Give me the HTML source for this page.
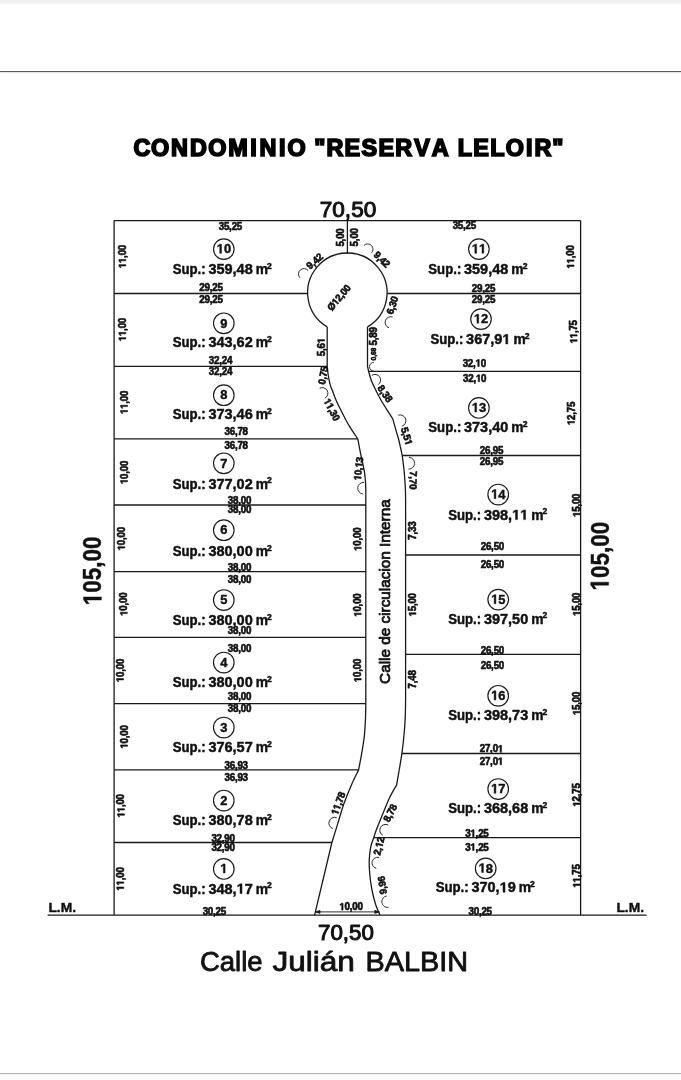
<!DOCTYPE html>
<html><head><meta charset="utf-8"><title>Condominio Reserva Leloir</title>
<style>
html,body{margin:0;padding:0;background:#fff;}
body{width:681px;height:1080px;overflow:hidden;position:relative;font-family:"Liberation Sans",sans-serif;}
.topband{position:absolute;left:0;top:0;width:681px;height:5px;background:linear-gradient(#efefef 0,#f1f1f1 55%,#fff 100%);}
.rule1{position:absolute;left:0;top:70.6px;width:681px;height:1.2px;background:#5a5a5a;box-shadow:0 1px 1px rgba(0,0,0,0.12);}
.rule2{position:absolute;left:0;top:1072.8px;width:681px;height:1.1px;background:#b4b4b4;box-shadow:0 1px 1px rgba(0,0,0,0.06);}
svg{position:absolute;left:0;top:0;}
</style></head><body>
<div class="topband"></div><div class="rule1"></div><div class="rule2"></div>
<svg width="681" height="1080" viewBox="0 0 681 1080" style="filter:blur(0.45px)">
<g fill="none" stroke="#1a1a1a" stroke-width="1.30">
<path d="M114.1 220.6 H580.6"/>
<path d="M114.1 220.6 V915.1"/>
<path d="M580.6 220.6 V915.1"/>
<path d="M47.6 915.1 H646.6"/>
<path d="M114.1 293.5 H307.7"/>
<path d="M114.1 366.4 H327.2"/>
<path d="M114.1 438.9 H357.8"/>
<path d="M114.1 505.0 H365.8"/>
<path d="M114.1 571.6 H365.8"/>
<path d="M114.1 637.4 H365.8"/>
<path d="M114.1 703.6 H365.8"/>
<path d="M114.1 769.9 H358.6"/>
<path d="M114.1 842.5 H331.9"/>
<path d="M387.1 293.5 H580.6"/>
<path d="M368.6 371.3 H580.6"/>
<path d="M402.2 455.5 H580.6"/>
<path d="M405.6 555.0 H580.6"/>
<path d="M405.6 654.3 H580.6"/>
<path d="M401.9 753.5 H580.6"/>
<path d="M373.8 837.6 H580.6"/>
<path d="M347.4 220.6 V253.8"/>
<path d="M327.2 326.9 A39.7 39.7 0 1 1 367.5 326.9"/>
<path d="M327.20 326.90 L327.20 366.40 C327.37 367.83 327.68 371.87 328.20 375.00 C328.72 378.13 329.62 382.65 330.30 385.20 C330.98 387.75 331.28 387.65 332.30 390.30 C333.32 392.95 334.25 396.37 336.40 401.10 C338.55 405.83 342.85 414.23 345.20 418.70 C347.55 423.17 348.83 425.18 350.50 427.90 C352.17 430.62 353.98 433.17 355.20 435.00 C356.42 436.83 357.37 438.25 357.80 438.90 C358.22 441.12 359.53 448.35 360.30 452.20 C361.07 456.05 361.73 458.87 362.40 462.00 C363.07 465.13 363.78 467.67 364.30 471.00 C364.82 474.33 365.25 478.83 365.50 482.00 C365.75 485.17 365.75 486.20 365.80 490.00 C365.85 493.80 365.80 502.33 365.80 504.80 L365.80 703.60 C365.75 706.00 365.73 712.73 365.50 718.00 C365.27 723.27 365.02 729.38 364.40 735.20 C363.78 741.02 362.77 747.12 361.80 752.90 C360.83 758.68 359.13 767.07 358.60 769.90 C357.35 772.53 353.57 780.02 351.10 785.70 C348.63 791.38 346.00 797.77 343.80 804.00 C341.60 810.23 339.88 816.68 337.90 823.10 C335.92 829.52 332.90 839.27 331.90 842.50 L314.60 915.10"/>
<path d="M367.50 326.90 L367.50 366.20 L368.60 371.30 C368.92 372.42 369.83 375.97 370.50 378.00 C371.17 380.03 370.93 379.95 372.60 383.50 C374.27 387.05 377.72 394.32 380.50 399.30 C383.28 404.28 387.25 410.13 389.30 413.40 C391.35 416.67 392.22 417.98 392.80 418.90 C393.45 421.23 395.70 429.38 396.70 432.90 C397.70 436.42 397.88 436.25 398.80 440.00 C399.72 443.75 401.63 452.83 402.20 455.40 C402.50 457.83 403.52 465.23 404.00 470.00 C404.48 474.77 404.83 479.00 405.10 484.00 C405.37 489.00 405.52 488.17 405.60 500.00 C405.68 511.83 405.60 545.83 405.60 555.00 L405.60 700.00 C405.53 703.00 405.47 712.13 405.20 718.00 C404.93 723.87 404.55 729.32 404.00 735.20 C403.45 741.08 402.70 747.50 401.90 753.30 C401.10 759.10 400.08 764.72 399.20 770.00 C398.32 775.28 397.03 782.50 396.60 785.00 C395.38 787.20 391.73 793.07 389.30 798.20 C386.87 803.33 384.20 810.42 382.00 815.80 C379.80 821.18 377.47 826.87 376.10 830.50 C374.73 834.13 374.68 834.90 373.80 837.60 C372.92 840.30 371.55 843.10 370.80 846.70 C370.05 850.30 369.55 855.73 369.30 859.20 C369.05 862.67 369.12 864.03 369.30 867.50 C369.48 870.97 369.87 875.83 370.40 880.00 C370.93 884.17 371.60 888.33 372.50 892.50 C373.40 896.67 374.55 901.23 375.80 905.00 C377.05 908.77 379.30 913.42 380.00 915.10"/>
</g>
<g stroke="#1a1a1a" stroke-width="0.9" fill="#1a1a1a"><path d="M315.6 911.9 H379.2" fill="none"/><path d="M315.4 911.9 l4.6 -1.4 v2.8 z"/><path d="M379.4 911.9 l-4.6 -1.4 v2.8 z"/></g>
<g font-family='"Liberation Sans", sans-serif' fill="#111" stroke="#111" stroke-width="0.45" stroke-linejoin="round">
<text y="156.3" font-size="23.4" font-weight="bold" stroke="#000" stroke-width="1.7" stroke-linejoin="miter" fill="#000" x="133.40 150.94 171.09 189.93 208.13 228.28 250.36 259.47 278.96 287.41 306.90 314.35 326.40 344.60 361.49 378.39 395.29 414.14 431.70 449.90 457.70 473.30 490.20 505.80 525.95 534.41 552.26">CONDOMINIO &quot;RESERVA LELOIR&quot;</text>
<text x="348.00" y="217.20" font-size="22.60" font-weight="normal" text-anchor="middle" stroke-width="1.0">70,50</text>
<text x="346.00" y="940.20" font-size="22.40" font-weight="normal" text-anchor="middle" stroke-width="1.0">70,50</text>
<text x="200.0" y="971.4" font-size="26.8" textLength="62.6" lengthAdjust="spacingAndGlyphs" stroke="#111" stroke-width="0.8">Calle</text>
<text x="272.4" y="971.4" font-size="26.8" textLength="82.4" lengthAdjust="spacingAndGlyphs" stroke="#111" stroke-width="0.8">Julián</text>
<text x="365.6" y="971.4" font-size="26.8" textLength="102.6" lengthAdjust="spacingAndGlyphs" stroke="#111" stroke-width="0.8">BALBIN</text>
<g transform="translate(48.40 912.20) scale(1.0073 1)"><text y="0.00" font-size="13.70" font-weight="bold" x="0.00 8.37 12.18 23.59">L.M.</text></g>
<g transform="translate(616.40 912.20) scale(1.0073 1)"><text y="0.00" font-size="13.70" font-weight="bold" x="0.00 8.37 12.18 23.59">L.M.</text></g>
<g transform="translate(92.10 570.90) rotate(-90.0) scale(0.865 1)" stroke-width="0.45"><text y="9.31" font-size="26.00" font-weight="bold" x="-25.30 -10.84 3.61 10.84 25.30">05,00</text><path transform="translate(-39.75 9.31) scale(0.01270 -0.01270)" stroke-width="35.4" d="M478 0V1170L140 959V1180L493 1409H759V0Z"/></g>
<g transform="translate(599.30 556.10) rotate(-90.0) scale(0.865 1)" stroke-width="0.45"><text y="9.31" font-size="26.00" font-weight="bold" x="-25.30 -10.84 3.61 10.84 25.30">05,00</text><path transform="translate(-39.75 9.31) scale(0.01270 -0.01270)" stroke-width="35.4" d="M478 0V1170L140 959V1180L493 1409H759V0Z"/></g>
<g transform="translate(390.4 683.9) rotate(-90)"><text x="0" y="0" font-size="15.3" textLength="184.6" lengthAdjust="spacingAndGlyphs" stroke="#111" stroke-width="0.8">Calle de circulacion Interna</text></g>
<circle cx="223.8" cy="249.1" r="10.3" fill="none" stroke="#1a1a1a" stroke-width="1.15"/>
<g transform="translate(223.90 253.30) scale(0.9700 1)"><text y="0.00" font-size="13.30" font-weight="bold" x="0.00">0</text><path transform="translate(-7.39 0.00) scale(0.00649 -0.00649)" stroke-width="69.3" d="M478 0V1170L140 959V1180L493 1409H759V0Z"/></g>
<g transform="translate(172.70 274.00) scale(0.9420 1)"><text y="0.00" font-size="14.00" font-weight="bold" x="0.00 9.34 17.89 26.45 30.34">Sup.:</text></g>
<g transform="translate(208.40 274.00) scale(1.0360 1)"><text y="0.00" font-size="14.00" font-weight="bold" x="0.00 7.78 15.57 23.35 27.24 35.03">359,48</text></g>
<g transform="translate(255.70 274.00) scale(0.9850 1)"><text y="0.00" font-size="14.00" font-weight="bold" x="0.00">m</text></g>
<g transform="translate(267.10 268.50) scale(1.0000 1)"><text y="0.00" font-size="8.60" font-weight="bold" x="0.00">2</text></g>
<circle cx="223.8" cy="323.3" r="10.3" fill="none" stroke="#1a1a1a" stroke-width="1.15"/>
<g transform="translate(223.90 327.50) scale(0.9700 1)"><text y="0.00" font-size="13.30" font-weight="bold" x="-3.70">9</text></g>
<g transform="translate(172.70 347.10) scale(0.9420 1)"><text y="0.00" font-size="14.00" font-weight="bold" x="0.00 9.34 17.89 26.45 30.34">Sup.:</text></g>
<g transform="translate(208.40 347.10) scale(1.0360 1)"><text y="0.00" font-size="14.00" font-weight="bold" x="0.00 7.78 15.57 23.35 27.24 35.03">343,62</text></g>
<g transform="translate(255.70 347.10) scale(0.9850 1)"><text y="0.00" font-size="14.00" font-weight="bold" x="0.00">m</text></g>
<g transform="translate(267.10 341.60) scale(1.0000 1)"><text y="0.00" font-size="8.60" font-weight="bold" x="0.00">2</text></g>
<circle cx="223.8" cy="395.2" r="10.3" fill="none" stroke="#1a1a1a" stroke-width="1.15"/>
<g transform="translate(223.90 399.40) scale(0.9700 1)"><text y="0.00" font-size="13.30" font-weight="bold" x="-3.70">8</text></g>
<g transform="translate(172.70 419.00) scale(0.9420 1)"><text y="0.00" font-size="14.00" font-weight="bold" x="0.00 9.34 17.89 26.45 30.34">Sup.:</text></g>
<g transform="translate(208.40 419.00) scale(1.0360 1)"><text y="0.00" font-size="14.00" font-weight="bold" x="0.00 7.78 15.57 23.35 27.24 35.03">373,46</text></g>
<g transform="translate(255.70 419.00) scale(0.9850 1)"><text y="0.00" font-size="14.00" font-weight="bold" x="0.00">m</text></g>
<g transform="translate(267.10 413.50) scale(1.0000 1)"><text y="0.00" font-size="8.60" font-weight="bold" x="0.00">2</text></g>
<circle cx="223.8" cy="463.3" r="10.3" fill="none" stroke="#1a1a1a" stroke-width="1.15"/>
<g transform="translate(223.90 467.50) scale(0.9700 1)"><text y="0.00" font-size="13.30" font-weight="bold" x="-3.70">7</text></g>
<g transform="translate(172.70 488.50) scale(0.9420 1)"><text y="0.00" font-size="14.00" font-weight="bold" x="0.00 9.34 17.89 26.45 30.34">Sup.:</text></g>
<g transform="translate(208.40 488.50) scale(1.0360 1)"><text y="0.00" font-size="14.00" font-weight="bold" x="0.00 7.78 15.57 23.35 27.24 35.03">377,02</text></g>
<g transform="translate(255.70 488.50) scale(0.9850 1)"><text y="0.00" font-size="14.00" font-weight="bold" x="0.00">m</text></g>
<g transform="translate(267.10 483.00) scale(1.0000 1)"><text y="0.00" font-size="8.60" font-weight="bold" x="0.00">2</text></g>
<circle cx="223.8" cy="530.2" r="10.3" fill="none" stroke="#1a1a1a" stroke-width="1.15"/>
<g transform="translate(223.90 534.40) scale(0.9700 1)"><text y="0.00" font-size="13.30" font-weight="bold" x="-3.70">6</text></g>
<g transform="translate(172.70 556.10) scale(0.9420 1)"><text y="0.00" font-size="14.00" font-weight="bold" x="0.00 9.34 17.89 26.45 30.34">Sup.:</text></g>
<g transform="translate(208.40 556.10) scale(1.0360 1)"><text y="0.00" font-size="14.00" font-weight="bold" x="0.00 7.78 15.57 23.35 27.24 35.03">380,00</text></g>
<g transform="translate(255.70 556.10) scale(0.9850 1)"><text y="0.00" font-size="14.00" font-weight="bold" x="0.00">m</text></g>
<g transform="translate(267.10 550.60) scale(1.0000 1)"><text y="0.00" font-size="8.60" font-weight="bold" x="0.00">2</text></g>
<circle cx="223.8" cy="600.0" r="10.3" fill="none" stroke="#1a1a1a" stroke-width="1.15"/>
<g transform="translate(223.90 604.20) scale(0.9700 1)"><text y="0.00" font-size="13.30" font-weight="bold" x="-3.70">5</text></g>
<g transform="translate(172.70 625.10) scale(0.9420 1)"><text y="0.00" font-size="14.00" font-weight="bold" x="0.00 9.34 17.89 26.45 30.34">Sup.:</text></g>
<g transform="translate(208.40 625.10) scale(1.0360 1)"><text y="0.00" font-size="14.00" font-weight="bold" x="0.00 7.78 15.57 23.35 27.24 35.03">380,00</text></g>
<g transform="translate(255.70 625.10) scale(0.9850 1)"><text y="0.00" font-size="14.00" font-weight="bold" x="0.00">m</text></g>
<g transform="translate(267.10 619.60) scale(1.0000 1)"><text y="0.00" font-size="8.60" font-weight="bold" x="0.00">2</text></g>
<circle cx="223.8" cy="662.5" r="10.3" fill="none" stroke="#1a1a1a" stroke-width="1.15"/>
<g transform="translate(223.90 666.70) scale(0.9700 1)"><text y="0.00" font-size="13.30" font-weight="bold" x="-3.70">4</text></g>
<g transform="translate(172.70 687.10) scale(0.9420 1)"><text y="0.00" font-size="14.00" font-weight="bold" x="0.00 9.34 17.89 26.45 30.34">Sup.:</text></g>
<g transform="translate(208.40 687.10) scale(1.0360 1)"><text y="0.00" font-size="14.00" font-weight="bold" x="0.00 7.78 15.57 23.35 27.24 35.03">380,00</text></g>
<g transform="translate(255.70 687.10) scale(0.9850 1)"><text y="0.00" font-size="14.00" font-weight="bold" x="0.00">m</text></g>
<g transform="translate(267.10 681.60) scale(1.0000 1)"><text y="0.00" font-size="8.60" font-weight="bold" x="0.00">2</text></g>
<circle cx="223.8" cy="727.5" r="10.3" fill="none" stroke="#1a1a1a" stroke-width="1.15"/>
<g transform="translate(223.90 731.70) scale(0.9700 1)"><text y="0.00" font-size="13.30" font-weight="bold" x="-3.70">3</text></g>
<g transform="translate(172.70 752.10) scale(0.9420 1)"><text y="0.00" font-size="14.00" font-weight="bold" x="0.00 9.34 17.89 26.45 30.34">Sup.:</text></g>
<g transform="translate(208.40 752.10) scale(1.0360 1)"><text y="0.00" font-size="14.00" font-weight="bold" x="0.00 7.78 15.57 23.35 27.24 35.03">376,57</text></g>
<g transform="translate(255.70 752.10) scale(0.9850 1)"><text y="0.00" font-size="14.00" font-weight="bold" x="0.00">m</text></g>
<g transform="translate(267.10 746.60) scale(1.0000 1)"><text y="0.00" font-size="8.60" font-weight="bold" x="0.00">2</text></g>
<circle cx="223.8" cy="800.5" r="10.3" fill="none" stroke="#1a1a1a" stroke-width="1.15"/>
<g transform="translate(223.90 804.70) scale(0.9700 1)"><text y="0.00" font-size="13.30" font-weight="bold" x="-3.70">2</text></g>
<g transform="translate(172.70 825.10) scale(0.9420 1)"><text y="0.00" font-size="14.00" font-weight="bold" x="0.00 9.34 17.89 26.45 30.34">Sup.:</text></g>
<g transform="translate(208.40 825.10) scale(1.0360 1)"><text y="0.00" font-size="14.00" font-weight="bold" x="0.00 7.78 15.57 23.35 27.24 35.03">380,78</text></g>
<g transform="translate(255.70 825.10) scale(0.9850 1)"><text y="0.00" font-size="14.00" font-weight="bold" x="0.00">m</text></g>
<g transform="translate(267.10 819.60) scale(1.0000 1)"><text y="0.00" font-size="8.60" font-weight="bold" x="0.00">2</text></g>
<circle cx="223.8" cy="868.9" r="10.3" fill="none" stroke="#1a1a1a" stroke-width="1.15"/>
<g transform="translate(223.90 873.10) scale(0.9700 1)"><path transform="translate(-3.70 0.00) scale(0.00649 -0.00649)" stroke-width="69.3" d="M478 0V1170L140 959V1180L493 1409H759V0Z"/></g>
<g transform="translate(172.70 893.50) scale(0.9420 1)"><text y="0.00" font-size="14.00" font-weight="bold" x="0.00 9.34 17.89 26.45 30.34">Sup.:</text></g>
<g transform="translate(208.40 893.50) scale(1.0360 1)"><text y="0.00" font-size="14.00" font-weight="bold" x="0.00 7.78 15.57 23.35 35.03">348,7</text><path transform="translate(27.24 0.00) scale(0.00684 -0.00684)" stroke-width="65.8" d="M478 0V1170L140 959V1180L493 1409H759V0Z"/></g>
<g transform="translate(255.70 893.50) scale(0.9850 1)"><text y="0.00" font-size="14.00" font-weight="bold" x="0.00">m</text></g>
<g transform="translate(267.10 888.00) scale(1.0000 1)"><text y="0.00" font-size="8.60" font-weight="bold" x="0.00">2</text></g>
<circle cx="478.9" cy="249.1" r="10.3" fill="none" stroke="#1a1a1a" stroke-width="1.15"/>
<g transform="translate(479.00 253.30) scale(0.9700 1)"><path transform="translate(-7.39 0.00) scale(0.00649 -0.00649)" stroke-width="69.3" d="M478 0V1170L140 959V1180L493 1409H759V0Z"/><path transform="translate(0.00 0.00) scale(0.00649 -0.00649)" stroke-width="69.3" d="M478 0V1170L140 959V1180L493 1409H759V0Z"/></g>
<g transform="translate(428.30 274.00) scale(0.9420 1)"><text y="0.00" font-size="14.00" font-weight="bold" x="0.00 9.34 17.89 26.45 30.34">Sup.:</text></g>
<g transform="translate(464.00 274.00) scale(1.0360 1)"><text y="0.00" font-size="14.00" font-weight="bold" x="0.00 7.78 15.57 23.35 27.24 35.03">359,48</text></g>
<g transform="translate(511.30 274.00) scale(0.9850 1)"><text y="0.00" font-size="14.00" font-weight="bold" x="0.00">m</text></g>
<g transform="translate(522.70 268.50) scale(1.0000 1)"><text y="0.00" font-size="8.60" font-weight="bold" x="0.00">2</text></g>
<circle cx="481.0" cy="319.1" r="10.3" fill="none" stroke="#1a1a1a" stroke-width="1.15"/>
<g transform="translate(481.10 323.30) scale(0.9700 1)"><text y="0.00" font-size="13.30" font-weight="bold" x="0.00">2</text><path transform="translate(-7.39 0.00) scale(0.00649 -0.00649)" stroke-width="69.3" d="M478 0V1170L140 959V1180L493 1409H759V0Z"/></g>
<g transform="translate(430.40 344.00) scale(0.9420 1)"><text y="0.00" font-size="14.00" font-weight="bold" x="0.00 9.34 17.89 26.45 30.34">Sup.:</text></g>
<g transform="translate(466.10 344.00) scale(1.0360 1)"><text y="0.00" font-size="14.00" font-weight="bold" x="0.00 7.78 15.57 23.35 27.24">367,9</text><path transform="translate(35.03 0.00) scale(0.00684 -0.00684)" stroke-width="65.8" d="M478 0V1170L140 959V1180L493 1409H759V0Z"/></g>
<g transform="translate(513.40 344.00) scale(0.9850 1)"><text y="0.00" font-size="14.00" font-weight="bold" x="0.00">m</text></g>
<g transform="translate(524.80 338.50) scale(1.0000 1)"><text y="0.00" font-size="8.60" font-weight="bold" x="0.00">2</text></g>
<circle cx="478.9" cy="407.9" r="10.3" fill="none" stroke="#1a1a1a" stroke-width="1.15"/>
<g transform="translate(479.00 412.10) scale(0.9700 1)"><text y="0.00" font-size="13.30" font-weight="bold" x="0.00">3</text><path transform="translate(-7.39 0.00) scale(0.00649 -0.00649)" stroke-width="69.3" d="M478 0V1170L140 959V1180L493 1409H759V0Z"/></g>
<g transform="translate(428.30 432.20) scale(0.9420 1)"><text y="0.00" font-size="14.00" font-weight="bold" x="0.00 9.34 17.89 26.45 30.34">Sup.:</text></g>
<g transform="translate(464.00 432.20) scale(1.0360 1)"><text y="0.00" font-size="14.00" font-weight="bold" x="0.00 7.78 15.57 23.35 27.24 35.03">373,40</text></g>
<g transform="translate(511.30 432.20) scale(0.9850 1)"><text y="0.00" font-size="14.00" font-weight="bold" x="0.00">m</text></g>
<g transform="translate(522.70 426.70) scale(1.0000 1)"><text y="0.00" font-size="8.60" font-weight="bold" x="0.00">2</text></g>
<circle cx="498.2" cy="494.5" r="10.3" fill="none" stroke="#1a1a1a" stroke-width="1.15"/>
<g transform="translate(498.30 498.70) scale(0.9700 1)"><text y="0.00" font-size="13.30" font-weight="bold" x="0.00">4</text><path transform="translate(-7.39 0.00) scale(0.00649 -0.00649)" stroke-width="69.3" d="M478 0V1170L140 959V1180L493 1409H759V0Z"/></g>
<g transform="translate(448.20 519.60) scale(0.9420 1)"><text y="0.00" font-size="14.00" font-weight="bold" x="0.00 9.34 17.89 26.45 30.34">Sup.:</text></g>
<g transform="translate(483.90 519.60) scale(1.0360 1)"><text y="0.00" font-size="14.00" font-weight="bold" x="0.00 7.78 15.57 23.35">398,</text><path transform="translate(27.24 0.00) scale(0.00684 -0.00684)" stroke-width="65.8" d="M478 0V1170L140 959V1180L493 1409H759V0Z"/><path transform="translate(35.03 0.00) scale(0.00684 -0.00684)" stroke-width="65.8" d="M478 0V1170L140 959V1180L493 1409H759V0Z"/></g>
<g transform="translate(531.20 519.60) scale(0.9850 1)"><text y="0.00" font-size="14.00" font-weight="bold" x="0.00">m</text></g>
<g transform="translate(542.60 514.10) scale(1.0000 1)"><text y="0.00" font-size="8.60" font-weight="bold" x="0.00">2</text></g>
<circle cx="498.2" cy="599.6" r="10.3" fill="none" stroke="#1a1a1a" stroke-width="1.15"/>
<g transform="translate(498.30 603.80) scale(0.9700 1)"><text y="0.00" font-size="13.30" font-weight="bold" x="0.00">5</text><path transform="translate(-7.39 0.00) scale(0.00649 -0.00649)" stroke-width="69.3" d="M478 0V1170L140 959V1180L493 1409H759V0Z"/></g>
<g transform="translate(448.20 623.90) scale(0.9420 1)"><text y="0.00" font-size="14.00" font-weight="bold" x="0.00 9.34 17.89 26.45 30.34">Sup.:</text></g>
<g transform="translate(483.90 623.90) scale(1.0360 1)"><text y="0.00" font-size="14.00" font-weight="bold" x="0.00 7.78 15.57 23.35 27.24 35.03">397,50</text></g>
<g transform="translate(531.20 623.90) scale(0.9850 1)"><text y="0.00" font-size="14.00" font-weight="bold" x="0.00">m</text></g>
<g transform="translate(542.60 618.40) scale(1.0000 1)"><text y="0.00" font-size="8.60" font-weight="bold" x="0.00">2</text></g>
<circle cx="498.2" cy="695.8" r="10.3" fill="none" stroke="#1a1a1a" stroke-width="1.15"/>
<g transform="translate(498.30 700.00) scale(0.9700 1)"><text y="0.00" font-size="13.30" font-weight="bold" x="0.00">6</text><path transform="translate(-7.39 0.00) scale(0.00649 -0.00649)" stroke-width="69.3" d="M478 0V1170L140 959V1180L493 1409H759V0Z"/></g>
<g transform="translate(448.20 720.30) scale(0.9420 1)"><text y="0.00" font-size="14.00" font-weight="bold" x="0.00 9.34 17.89 26.45 30.34">Sup.:</text></g>
<g transform="translate(483.90 720.30) scale(1.0360 1)"><text y="0.00" font-size="14.00" font-weight="bold" x="0.00 7.78 15.57 23.35 27.24 35.03">398,73</text></g>
<g transform="translate(531.20 720.30) scale(0.9850 1)"><text y="0.00" font-size="14.00" font-weight="bold" x="0.00">m</text></g>
<g transform="translate(542.60 714.80) scale(1.0000 1)"><text y="0.00" font-size="8.60" font-weight="bold" x="0.00">2</text></g>
<circle cx="498.2" cy="789.0" r="10.3" fill="none" stroke="#1a1a1a" stroke-width="1.15"/>
<g transform="translate(498.30 793.20) scale(0.9700 1)"><text y="0.00" font-size="13.30" font-weight="bold" x="0.00">7</text><path transform="translate(-7.39 0.00) scale(0.00649 -0.00649)" stroke-width="69.3" d="M478 0V1170L140 959V1180L493 1409H759V0Z"/></g>
<g transform="translate(448.20 813.30) scale(0.9420 1)"><text y="0.00" font-size="14.00" font-weight="bold" x="0.00 9.34 17.89 26.45 30.34">Sup.:</text></g>
<g transform="translate(483.90 813.30) scale(1.0360 1)"><text y="0.00" font-size="14.00" font-weight="bold" x="0.00 7.78 15.57 23.35 27.24 35.03">368,68</text></g>
<g transform="translate(531.20 813.30) scale(0.9850 1)"><text y="0.00" font-size="14.00" font-weight="bold" x="0.00">m</text></g>
<g transform="translate(542.60 807.80) scale(1.0000 1)"><text y="0.00" font-size="8.60" font-weight="bold" x="0.00">2</text></g>
<circle cx="485.7" cy="868.4" r="10.3" fill="none" stroke="#1a1a1a" stroke-width="1.15"/>
<g transform="translate(485.80 872.60) scale(0.9700 1)"><text y="0.00" font-size="13.30" font-weight="bold" x="0.00">8</text><path transform="translate(-7.39 0.00) scale(0.00649 -0.00649)" stroke-width="69.3" d="M478 0V1170L140 959V1180L493 1409H759V0Z"/></g>
<g transform="translate(435.70 892.20) scale(0.9420 1)"><text y="0.00" font-size="14.00" font-weight="bold" x="0.00 9.34 17.89 26.45 30.34">Sup.:</text></g>
<g transform="translate(471.40 892.20) scale(1.0360 1)"><text y="0.00" font-size="14.00" font-weight="bold" x="0.00 7.78 15.57 23.35 35.03">370,9</text><path transform="translate(27.24 0.00) scale(0.00684 -0.00684)" stroke-width="65.8" d="M478 0V1170L140 959V1180L493 1409H759V0Z"/></g>
<g transform="translate(518.70 892.20) scale(0.9850 1)"><text y="0.00" font-size="14.00" font-weight="bold" x="0.00">m</text></g>
<g transform="translate(530.10 886.70) scale(1.0000 1)"><text y="0.00" font-size="8.60" font-weight="bold" x="0.00">2</text></g>
<g transform="translate(230.50 226.80) rotate(0.0) scale(0.970 1)" stroke-width="0.62"><text y="3.62" font-size="10.10" font-weight="bold" x="-12.14 -6.81 -1.47 1.19 6.53">35,25</text></g>
<g transform="translate(211.10 287.40) rotate(0.0) scale(0.970 1)" stroke-width="0.62"><text y="3.62" font-size="10.10" font-weight="bold" x="-12.14 -6.81 -1.47 1.19 6.53">29,25</text></g>
<g transform="translate(211.10 299.40) rotate(0.0) scale(0.970 1)" stroke-width="0.62"><text y="3.62" font-size="10.10" font-weight="bold" x="-12.14 -6.81 -1.47 1.19 6.53">29,25</text></g>
<g transform="translate(220.60 360.40) rotate(0.0) scale(0.970 1)" stroke-width="0.62"><text y="3.62" font-size="10.10" font-weight="bold" x="-12.14 -6.81 -1.47 1.19 6.53">32,24</text></g>
<g transform="translate(220.60 371.60) rotate(0.0) scale(0.970 1)" stroke-width="0.62"><text y="3.62" font-size="10.10" font-weight="bold" x="-12.14 -6.81 -1.47 1.19 6.53">32,24</text></g>
<g transform="translate(236.30 431.80) rotate(0.0) scale(0.970 1)" stroke-width="0.62"><text y="3.62" font-size="10.10" font-weight="bold" x="-12.14 -6.81 -1.47 1.19 6.53">36,78</text></g>
<g transform="translate(236.30 445.50) rotate(0.0) scale(0.970 1)" stroke-width="0.62"><text y="3.62" font-size="10.10" font-weight="bold" x="-12.14 -6.81 -1.47 1.19 6.53">36,78</text></g>
<g transform="translate(239.60 500.00) rotate(0.0) scale(0.970 1)" stroke-width="0.62"><text y="3.62" font-size="10.10" font-weight="bold" x="-12.14 -6.81 -1.47 1.19 6.53">38,00</text></g>
<g transform="translate(239.60 509.10) rotate(0.0) scale(0.970 1)" stroke-width="0.62"><text y="3.62" font-size="10.10" font-weight="bold" x="-12.14 -6.81 -1.47 1.19 6.53">38,00</text></g>
<g transform="translate(239.60 567.20) rotate(0.0) scale(0.970 1)" stroke-width="0.62"><text y="3.62" font-size="10.10" font-weight="bold" x="-12.14 -6.81 -1.47 1.19 6.53">38,00</text></g>
<g transform="translate(239.60 579.30) rotate(0.0) scale(0.970 1)" stroke-width="0.62"><text y="3.62" font-size="10.10" font-weight="bold" x="-12.14 -6.81 -1.47 1.19 6.53">38,00</text></g>
<g transform="translate(239.60 630.60) rotate(0.0) scale(0.970 1)" stroke-width="0.62"><text y="3.62" font-size="10.10" font-weight="bold" x="-12.14 -6.81 -1.47 1.19 6.53">38,00</text></g>
<g transform="translate(239.60 648.00) rotate(0.0) scale(0.970 1)" stroke-width="0.62"><text y="3.62" font-size="10.10" font-weight="bold" x="-12.14 -6.81 -1.47 1.19 6.53">38,00</text></g>
<g transform="translate(239.60 696.50) rotate(0.0) scale(0.970 1)" stroke-width="0.62"><text y="3.62" font-size="10.10" font-weight="bold" x="-12.14 -6.81 -1.47 1.19 6.53">38,00</text></g>
<g transform="translate(239.60 708.40) rotate(0.0) scale(0.970 1)" stroke-width="0.62"><text y="3.62" font-size="10.10" font-weight="bold" x="-12.14 -6.81 -1.47 1.19 6.53">38,00</text></g>
<g transform="translate(236.30 765.50) rotate(0.0) scale(0.970 1)" stroke-width="0.62"><text y="3.62" font-size="10.10" font-weight="bold" x="-12.14 -6.81 -1.47 1.19 6.53">36,93</text></g>
<g transform="translate(236.30 777.20) rotate(0.0) scale(0.970 1)" stroke-width="0.62"><text y="3.62" font-size="10.10" font-weight="bold" x="-12.14 -6.81 -1.47 1.19 6.53">36,93</text></g>
<g transform="translate(223.20 838.40) rotate(0.0) scale(0.970 1)" stroke-width="0.62"><text y="3.62" font-size="10.10" font-weight="bold" x="-12.14 -6.81 -1.47 1.19 6.53">32,90</text></g>
<g transform="translate(223.20 847.60) rotate(0.0) scale(0.970 1)" stroke-width="0.62"><text y="3.62" font-size="10.10" font-weight="bold" x="-12.14 -6.81 -1.47 1.19 6.53">32,90</text></g>
<g transform="translate(214.40 911.00) rotate(0.0) scale(0.970 1)" stroke-width="0.62"><text y="3.62" font-size="10.10" font-weight="bold" x="-12.14 -6.81 -1.47 1.19 6.53">30,25</text></g>
<g transform="translate(464.40 225.60) rotate(0.0) scale(0.970 1)" stroke-width="0.62"><text y="3.62" font-size="10.10" font-weight="bold" x="-12.14 -6.81 -1.47 1.19 6.53">35,25</text></g>
<g transform="translate(483.60 288.70) rotate(0.0) scale(0.970 1)" stroke-width="0.62"><text y="3.62" font-size="10.10" font-weight="bold" x="-12.14 -6.81 -1.47 1.19 6.53">29,25</text></g>
<g transform="translate(483.60 298.90) rotate(0.0) scale(0.970 1)" stroke-width="0.62"><text y="3.62" font-size="10.10" font-weight="bold" x="-12.14 -6.81 -1.47 1.19 6.53">29,25</text></g>
<g transform="translate(474.40 362.90) rotate(0.0) scale(0.970 1)" stroke-width="0.62"><text y="3.62" font-size="10.10" font-weight="bold" x="-12.14 -6.81 -1.47 6.53">32,0</text><path transform="translate(1.19 3.62) scale(0.00493 -0.00493)" stroke-width="125.7" d="M478 0V1170L140 959V1180L493 1409H759V0Z"/></g>
<g transform="translate(474.80 378.10) rotate(0.0) scale(0.970 1)" stroke-width="0.62"><text y="3.62" font-size="10.10" font-weight="bold" x="-12.14 -6.81 -1.47 6.53">32,0</text><path transform="translate(1.19 3.62) scale(0.00493 -0.00493)" stroke-width="125.7" d="M478 0V1170L140 959V1180L493 1409H759V0Z"/></g>
<g transform="translate(491.60 450.20) rotate(0.0) scale(0.970 1)" stroke-width="0.62"><text y="3.62" font-size="10.10" font-weight="bold" x="-12.14 -6.81 -1.47 1.19 6.53">26,95</text></g>
<g transform="translate(491.60 461.20) rotate(0.0) scale(0.970 1)" stroke-width="0.62"><text y="3.62" font-size="10.10" font-weight="bold" x="-12.14 -6.81 -1.47 1.19 6.53">26,95</text></g>
<g transform="translate(492.50 546.50) rotate(0.0) scale(0.970 1)" stroke-width="0.62"><text y="3.62" font-size="10.10" font-weight="bold" x="-12.14 -6.81 -1.47 1.19 6.53">26,50</text></g>
<g transform="translate(492.50 564.20) rotate(0.0) scale(0.970 1)" stroke-width="0.62"><text y="3.62" font-size="10.10" font-weight="bold" x="-12.14 -6.81 -1.47 1.19 6.53">26,50</text></g>
<g transform="translate(492.50 650.50) rotate(0.0) scale(0.970 1)" stroke-width="0.62"><text y="3.62" font-size="10.10" font-weight="bold" x="-12.14 -6.81 -1.47 1.19 6.53">26,50</text></g>
<g transform="translate(492.50 665.00) rotate(0.0) scale(0.970 1)" stroke-width="0.62"><text y="3.62" font-size="10.10" font-weight="bold" x="-12.14 -6.81 -1.47 1.19 6.53">26,50</text></g>
<g transform="translate(491.50 748.70) rotate(0.0) scale(0.970 1)" stroke-width="0.62"><text y="3.62" font-size="10.10" font-weight="bold" x="-12.14 -6.81 -1.47 1.19">27,0</text><path transform="translate(6.53 3.62) scale(0.00493 -0.00493)" stroke-width="125.7" d="M478 0V1170L140 959V1180L493 1409H759V0Z"/></g>
<g transform="translate(491.50 761.10) rotate(0.0) scale(0.970 1)" stroke-width="0.62"><text y="3.62" font-size="10.10" font-weight="bold" x="-12.14 -6.81 -1.47 1.19">27,0</text><path transform="translate(6.53 3.62) scale(0.00493 -0.00493)" stroke-width="125.7" d="M478 0V1170L140 959V1180L493 1409H759V0Z"/></g>
<g transform="translate(477.00 833.20) rotate(0.0) scale(0.970 1)" stroke-width="0.62"><text y="3.62" font-size="10.10" font-weight="bold" x="-12.14 -1.47 1.19 6.53">3,25</text><path transform="translate(-6.81 3.62) scale(0.00493 -0.00493)" stroke-width="125.7" d="M478 0V1170L140 959V1180L493 1409H759V0Z"/></g>
<g transform="translate(477.00 846.90) rotate(0.0) scale(0.970 1)" stroke-width="0.62"><text y="3.62" font-size="10.10" font-weight="bold" x="-12.14 -1.47 1.19 6.53">3,25</text><path transform="translate(-6.81 3.62) scale(0.00493 -0.00493)" stroke-width="125.7" d="M478 0V1170L140 959V1180L493 1409H759V0Z"/></g>
<g transform="translate(480.30 911.20) rotate(0.0) scale(0.970 1)" stroke-width="0.62"><text y="3.62" font-size="10.10" font-weight="bold" x="-12.14 -6.81 -1.47 1.19 6.53">30,25</text></g>
<g transform="translate(351.20 906.50) rotate(0.0) scale(0.970 1)" stroke-width="0.62"><text y="3.62" font-size="10.10" font-weight="bold" x="-6.81 -1.47 1.19 6.53">0,00</text><path transform="translate(-12.14 3.62) scale(0.00493 -0.00493)" stroke-width="125.7" d="M478 0V1170L140 959V1180L493 1409H759V0Z"/></g>
<g transform="translate(122.20 256.50) rotate(-90.0) scale(0.970 1)" stroke-width="0.62"><text y="3.62" font-size="10.10" font-weight="bold" x="-1.47 1.19 6.53">,00</text><path transform="translate(-12.14 3.62) scale(0.00493 -0.00493)" stroke-width="125.7" d="M478 0V1170L140 959V1180L493 1409H759V0Z"/><path transform="translate(-6.81 3.62) scale(0.00493 -0.00493)" stroke-width="125.7" d="M478 0V1170L140 959V1180L493 1409H759V0Z"/></g>
<g transform="translate(122.20 329.50) rotate(-90.0) scale(0.970 1)" stroke-width="0.62"><text y="3.62" font-size="10.10" font-weight="bold" x="-1.47 1.19 6.53">,00</text><path transform="translate(-12.14 3.62) scale(0.00493 -0.00493)" stroke-width="125.7" d="M478 0V1170L140 959V1180L493 1409H759V0Z"/><path transform="translate(-6.81 3.62) scale(0.00493 -0.00493)" stroke-width="125.7" d="M478 0V1170L140 959V1180L493 1409H759V0Z"/></g>
<g transform="translate(123.90 402.30) rotate(-90.0) scale(0.970 1)" stroke-width="0.62"><text y="3.62" font-size="10.10" font-weight="bold" x="-1.47 1.19 6.53">,00</text><path transform="translate(-12.14 3.62) scale(0.00493 -0.00493)" stroke-width="125.7" d="M478 0V1170L140 959V1180L493 1409H759V0Z"/><path transform="translate(-6.81 3.62) scale(0.00493 -0.00493)" stroke-width="125.7" d="M478 0V1170L140 959V1180L493 1409H759V0Z"/></g>
<g transform="translate(123.90 472.30) rotate(-90.0) scale(0.970 1)" stroke-width="0.62"><text y="3.62" font-size="10.10" font-weight="bold" x="-6.81 -1.47 1.19 6.53">0,00</text><path transform="translate(-12.14 3.62) scale(0.00493 -0.00493)" stroke-width="125.7" d="M478 0V1170L140 959V1180L493 1409H759V0Z"/></g>
<g transform="translate(121.20 538.60) rotate(-90.0) scale(0.970 1)" stroke-width="0.62"><text y="3.62" font-size="10.10" font-weight="bold" x="-6.81 -1.47 1.19 6.53">0,00</text><path transform="translate(-12.14 3.62) scale(0.00493 -0.00493)" stroke-width="125.7" d="M478 0V1170L140 959V1180L493 1409H759V0Z"/></g>
<g transform="translate(123.70 604.10) rotate(-90.0) scale(0.970 1)" stroke-width="0.62"><text y="3.62" font-size="10.10" font-weight="bold" x="-6.81 -1.47 1.19 6.53">0,00</text><path transform="translate(-12.14 3.62) scale(0.00493 -0.00493)" stroke-width="125.7" d="M478 0V1170L140 959V1180L493 1409H759V0Z"/></g>
<g transform="translate(119.90 670.40) rotate(-90.0) scale(0.970 1)" stroke-width="0.62"><text y="3.62" font-size="10.10" font-weight="bold" x="-6.81 -1.47 1.19 6.53">0,00</text><path transform="translate(-12.14 3.62) scale(0.00493 -0.00493)" stroke-width="125.7" d="M478 0V1170L140 959V1180L493 1409H759V0Z"/></g>
<g transform="translate(123.90 736.80) rotate(-90.0) scale(0.970 1)" stroke-width="0.62"><text y="3.62" font-size="10.10" font-weight="bold" x="-6.81 -1.47 1.19 6.53">0,00</text><path transform="translate(-12.14 3.62) scale(0.00493 -0.00493)" stroke-width="125.7" d="M478 0V1170L140 959V1180L493 1409H759V0Z"/></g>
<g transform="translate(120.80 805.70) rotate(-90.0) scale(0.970 1)" stroke-width="0.62"><text y="3.62" font-size="10.10" font-weight="bold" x="-1.47 1.19 6.53">,00</text><path transform="translate(-12.14 3.62) scale(0.00493 -0.00493)" stroke-width="125.7" d="M478 0V1170L140 959V1180L493 1409H759V0Z"/><path transform="translate(-6.81 3.62) scale(0.00493 -0.00493)" stroke-width="125.7" d="M478 0V1170L140 959V1180L493 1409H759V0Z"/></g>
<g transform="translate(120.10 878.90) rotate(-90.0) scale(0.970 1)" stroke-width="0.62"><text y="3.62" font-size="10.10" font-weight="bold" x="-1.47 1.19 6.53">,00</text><path transform="translate(-12.14 3.62) scale(0.00493 -0.00493)" stroke-width="125.7" d="M478 0V1170L140 959V1180L493 1409H759V0Z"/><path transform="translate(-6.81 3.62) scale(0.00493 -0.00493)" stroke-width="125.7" d="M478 0V1170L140 959V1180L493 1409H759V0Z"/></g>
<g transform="translate(570.40 256.90) rotate(-90.0) scale(0.970 1)" stroke-width="0.62"><text y="3.62" font-size="10.10" font-weight="bold" x="-1.47 1.19 6.53">,00</text><path transform="translate(-12.14 3.62) scale(0.00493 -0.00493)" stroke-width="125.7" d="M478 0V1170L140 959V1180L493 1409H759V0Z"/><path transform="translate(-6.81 3.62) scale(0.00493 -0.00493)" stroke-width="125.7" d="M478 0V1170L140 959V1180L493 1409H759V0Z"/></g>
<g transform="translate(573.50 331.70) rotate(-90.0) scale(0.970 1)" stroke-width="0.62"><text y="3.62" font-size="10.10" font-weight="bold" x="-1.47 1.19 6.53">,75</text><path transform="translate(-12.14 3.62) scale(0.00493 -0.00493)" stroke-width="125.7" d="M478 0V1170L140 959V1180L493 1409H759V0Z"/><path transform="translate(-6.81 3.62) scale(0.00493 -0.00493)" stroke-width="125.7" d="M478 0V1170L140 959V1180L493 1409H759V0Z"/></g>
<g transform="translate(570.90 413.30) rotate(-90.0) scale(0.970 1)" stroke-width="0.62"><text y="3.62" font-size="10.10" font-weight="bold" x="-6.81 -1.47 1.19 6.53">2,75</text><path transform="translate(-12.14 3.62) scale(0.00493 -0.00493)" stroke-width="125.7" d="M478 0V1170L140 959V1180L493 1409H759V0Z"/></g>
<g transform="translate(576.50 505.20) rotate(-90.0) scale(0.970 1)" stroke-width="0.62"><text y="3.62" font-size="10.10" font-weight="bold" x="-6.81 -1.47 1.19 6.53">5,00</text><path transform="translate(-12.14 3.62) scale(0.00493 -0.00493)" stroke-width="125.7" d="M478 0V1170L140 959V1180L493 1409H759V0Z"/></g>
<g transform="translate(576.50 604.20) rotate(-90.0) scale(0.970 1)" stroke-width="0.62"><text y="3.62" font-size="10.10" font-weight="bold" x="-6.81 -1.47 1.19 6.53">5,00</text><path transform="translate(-12.14 3.62) scale(0.00493 -0.00493)" stroke-width="125.7" d="M478 0V1170L140 959V1180L493 1409H759V0Z"/></g>
<g transform="translate(576.50 703.30) rotate(-90.0) scale(0.970 1)" stroke-width="0.62"><text y="3.62" font-size="10.10" font-weight="bold" x="-6.81 -1.47 1.19 6.53">5,00</text><path transform="translate(-12.14 3.62) scale(0.00493 -0.00493)" stroke-width="125.7" d="M478 0V1170L140 959V1180L493 1409H759V0Z"/></g>
<g transform="translate(576.50 794.90) rotate(-90.0) scale(0.970 1)" stroke-width="0.62"><text y="3.62" font-size="10.10" font-weight="bold" x="-6.81 -1.47 1.19 6.53">2,75</text><path transform="translate(-12.14 3.62) scale(0.00493 -0.00493)" stroke-width="125.7" d="M478 0V1170L140 959V1180L493 1409H759V0Z"/></g>
<g transform="translate(576.50 875.90) rotate(-90.0) scale(0.970 1)" stroke-width="0.62"><text y="3.62" font-size="10.10" font-weight="bold" x="-1.47 1.19 6.53">,75</text><path transform="translate(-12.14 3.62) scale(0.00493 -0.00493)" stroke-width="125.7" d="M478 0V1170L140 959V1180L493 1409H759V0Z"/><path transform="translate(-6.81 3.62) scale(0.00493 -0.00493)" stroke-width="125.7" d="M478 0V1170L140 959V1180L493 1409H759V0Z"/></g>
<g transform="translate(340.10 237.40) rotate(-90.0) scale(0.970 1)" stroke-width="0.62"><text y="3.62" font-size="10.10" font-weight="bold" x="-9.48 -4.14 -1.47 3.86">5,00</text></g>
<g transform="translate(354.70 237.20) rotate(-90.0) scale(0.970 1)" stroke-width="0.62"><text y="3.62" font-size="10.10" font-weight="bold" x="-9.48 -4.14 -1.47 3.86">5,00</text></g>
<g transform="translate(321.00 347.00) rotate(-90.0) scale(0.970 1)" stroke-width="0.62"><text y="3.62" font-size="10.10" font-weight="bold" x="-9.48 -4.14 -1.47">5,6</text><path transform="translate(3.86 3.62) scale(0.00493 -0.00493)" stroke-width="125.7" d="M478 0V1170L140 959V1180L493 1409H759V0Z"/></g>
<g transform="translate(373.40 336.30) rotate(-90.0) scale(0.970 1)" stroke-width="0.62"><text y="3.62" font-size="10.10" font-weight="bold" x="-9.48 -4.14 -1.47 3.86">5,89</text></g>
<g transform="translate(357.60 539.10) rotate(-90.0) scale(0.970 1)" stroke-width="0.62"><text y="3.62" font-size="10.10" font-weight="bold" x="-6.81 -1.47 1.19 6.53">0,00</text><path transform="translate(-12.14 3.62) scale(0.00493 -0.00493)" stroke-width="125.7" d="M478 0V1170L140 959V1180L493 1409H759V0Z"/></g>
<g transform="translate(357.60 605.00) rotate(-90.0) scale(0.970 1)" stroke-width="0.62"><text y="3.62" font-size="10.10" font-weight="bold" x="-6.81 -1.47 1.19 6.53">0,00</text><path transform="translate(-12.14 3.62) scale(0.00493 -0.00493)" stroke-width="125.7" d="M478 0V1170L140 959V1180L493 1409H759V0Z"/></g>
<g transform="translate(357.60 670.40) rotate(-90.0) scale(0.970 1)" stroke-width="0.62"><text y="3.62" font-size="10.10" font-weight="bold" x="-6.81 -1.47 1.19 6.53">0,00</text><path transform="translate(-12.14 3.62) scale(0.00493 -0.00493)" stroke-width="125.7" d="M478 0V1170L140 959V1180L493 1409H759V0Z"/></g>
<g transform="translate(412.40 530.60) rotate(-90.0) scale(0.970 1)" stroke-width="0.62"><text y="3.62" font-size="10.10" font-weight="bold" x="-9.48 -4.14 -1.47 3.86">7,33</text></g>
<g transform="translate(412.40 604.70) rotate(-90.0) scale(0.970 1)" stroke-width="0.62"><text y="3.62" font-size="10.10" font-weight="bold" x="-6.81 -1.47 1.19 6.53">5,00</text><path transform="translate(-12.14 3.62) scale(0.00493 -0.00493)" stroke-width="125.7" d="M478 0V1170L140 959V1180L493 1409H759V0Z"/></g>
<g transform="translate(412.40 679.30) rotate(-90.0) scale(0.970 1)" stroke-width="0.62"><text y="3.62" font-size="10.10" font-weight="bold" x="-9.48 -4.14 -1.47 3.86">7,48</text></g>
<g transform="translate(314.60 261.00) rotate(-41.0) scale(0.970 1)" stroke-width="0.62"><text y="3.62" font-size="10.10" font-weight="bold" x="-9.48 -4.14 -1.47 3.86">9,42</text></g>
<path transform="translate(304.00 274.10) rotate(-41.0)" d="M-5.50 0 A5.50 5.50 0 0 1 5.50 0" fill="none" stroke="#1a1a1a" stroke-width="0.85"/>
<g transform="translate(382.10 259.40) rotate(45.0) scale(0.970 1)" stroke-width="0.62"><text y="3.62" font-size="10.10" font-weight="bold" x="-9.48 -4.14 -1.47 3.86">9,42</text></g>
<path transform="translate(367.70 249.20) rotate(45.0)" d="M-5.30 0 A5.30 5.30 0 0 1 5.30 0" fill="none" stroke="#1a1a1a" stroke-width="0.85"/>
<g transform="translate(338.90 297.40) rotate(-50.0) scale(0.970 1)" stroke-width="0.62"><text y="3.58" font-size="10.00" font-weight="bold" x="-15.72 -3.05 2.24 4.88 10.16">Ø2,00</text><path transform="translate(-8.33 3.58) scale(0.00488 -0.00488)" stroke-width="127.0" d="M478 0V1170L140 959V1180L493 1409H759V0Z"/></g>
<g transform="translate(392.20 305.20) rotate(-72.0) scale(0.970 1)" stroke-width="0.62"><text y="3.62" font-size="10.10" font-weight="bold" x="-9.48 -4.14 -1.47 3.86">6,30</text></g>
<path transform="translate(390.80 322.40) rotate(-72.0)" d="M-5.70 0 A5.70 5.70 0 0 1 5.70 0" fill="none" stroke="#1a1a1a" stroke-width="0.85"/>
<g transform="translate(373.30 354.10) rotate(-90.0) scale(0.970 1)" stroke-width="0.62"><text y="2.51" font-size="7.00" font-weight="bold" x="-6.57 -2.87 -1.02 2.68">0,68</text></g>
<path transform="translate(373.90 366.70) rotate(-90.0)" d="M-4.40 0 A4.40 4.40 0 0 1 4.40 0" fill="none" stroke="#1a1a1a" stroke-width="0.85"/>
<g transform="translate(322.90 375.20) rotate(-80.0) scale(0.970 1)" stroke-width="0.62"><text y="3.62" font-size="10.10" font-weight="bold" x="-9.48 -4.14 -1.47 3.86">0,75</text></g>
<g transform="translate(332.00 409.60) rotate(62.0) scale(0.970 1)" stroke-width="0.62"><text y="3.62" font-size="10.10" font-weight="bold" x="-1.47 1.19 6.53">,30</text><path transform="translate(-12.14 3.62) scale(0.00493 -0.00493)" stroke-width="125.7" d="M478 0V1170L140 959V1180L493 1409H759V0Z"/><path transform="translate(-6.81 3.62) scale(0.00493 -0.00493)" stroke-width="125.7" d="M478 0V1170L140 959V1180L493 1409H759V0Z"/></g>
<path transform="translate(322.30 393.20) rotate(62.0)" d="M-5.60 0 A5.60 5.60 0 0 1 5.60 0" fill="none" stroke="#1a1a1a" stroke-width="0.85"/>
<g transform="translate(385.30 393.50) rotate(55.0) scale(0.970 1)" stroke-width="0.62"><text y="3.62" font-size="10.10" font-weight="bold" x="-9.48 -4.14 -1.47 3.86">8,38</text></g>
<path transform="translate(375.00 380.00) rotate(55.0)" d="M-5.60 0 A5.60 5.60 0 0 1 5.60 0" fill="none" stroke="#1a1a1a" stroke-width="0.85"/>
<g transform="translate(406.80 436.10) rotate(73.0) scale(0.970 1)" stroke-width="0.62"><text y="3.62" font-size="10.10" font-weight="bold" x="-9.48 -4.14 -1.47">5,5</text><path transform="translate(3.86 3.62) scale(0.00493 -0.00493)" stroke-width="125.7" d="M478 0V1170L140 959V1180L493 1409H759V0Z"/></g>
<path transform="translate(400.10 420.70) rotate(73.0)" d="M-5.80 0 A5.80 5.80 0 0 1 5.80 0" fill="none" stroke="#1a1a1a" stroke-width="0.85"/>
<g transform="translate(358.40 468.60) rotate(-84.0) scale(0.970 1)" stroke-width="0.62"><text y="3.62" font-size="10.10" font-weight="bold" x="-6.81 -1.47 6.53">0,3</text><path transform="translate(-12.14 3.62) scale(0.00493 -0.00493)" stroke-width="125.7" d="M478 0V1170L140 959V1180L493 1409H759V0Z"/><path transform="translate(1.19 3.62) scale(0.00493 -0.00493)" stroke-width="125.7" d="M478 0V1170L140 959V1180L493 1409H759V0Z"/></g>
<path transform="translate(363.50 488.20) rotate(-84.0)" d="M-5.80 0 A5.80 5.80 0 0 1 5.80 0" fill="none" stroke="#1a1a1a" stroke-width="0.85"/>
<g transform="translate(413.40 480.40) rotate(92.0) scale(0.970 1)" stroke-width="0.62"><text y="3.62" font-size="10.10" font-weight="bold" x="-9.48 -4.14 -1.47 3.86">7,70</text></g>
<path transform="translate(408.70 463.20) rotate(92.0)" d="M-5.90 0 A5.90 5.90 0 0 1 5.90 0" fill="none" stroke="#1a1a1a" stroke-width="0.85"/>
<g transform="translate(338.20 803.30) rotate(-70.0) scale(0.970 1)" stroke-width="0.62"><text y="3.62" font-size="10.10" font-weight="bold" x="-1.47 1.19 6.53">,78</text><path transform="translate(-12.14 3.62) scale(0.00493 -0.00493)" stroke-width="125.7" d="M478 0V1170L140 959V1180L493 1409H759V0Z"/><path transform="translate(-6.81 3.62) scale(0.00493 -0.00493)" stroke-width="125.7" d="M478 0V1170L140 959V1180L493 1409H759V0Z"/></g>
<path transform="translate(334.70 823.10) rotate(-70.0)" d="M-5.80 0 A5.80 5.80 0 0 1 5.80 0" fill="none" stroke="#1a1a1a" stroke-width="0.85"/>
<g transform="translate(390.00 812.90) rotate(-62.0) scale(0.970 1)" stroke-width="0.62"><text y="3.62" font-size="10.10" font-weight="bold" x="-9.48 -4.14 -1.47 3.86">8,78</text></g>
<path transform="translate(385.60 830.20) rotate(-62.0)" d="M-5.80 0 A5.80 5.80 0 0 1 5.80 0" fill="none" stroke="#1a1a1a" stroke-width="0.85"/>
<g transform="translate(378.80 845.90) rotate(-76.0) scale(0.970 1)" stroke-width="0.62"><text y="3.62" font-size="10.10" font-weight="bold" x="-9.48 -4.14 3.86">2,2</text><path transform="translate(-1.47 3.62) scale(0.00493 -0.00493)" stroke-width="125.7" d="M478 0V1170L140 959V1180L493 1409H759V0Z"/></g>
<path transform="translate(377.60 862.90) rotate(-76.0)" d="M-5.60 0 A5.60 5.60 0 0 1 5.60 0" fill="none" stroke="#1a1a1a" stroke-width="0.85"/>
<g transform="translate(382.20 885.20) rotate(-98.0) scale(0.970 1)" stroke-width="0.62"><text y="3.62" font-size="10.10" font-weight="bold" x="-9.48 -4.14 -1.47 3.86">9,96</text></g>
<path transform="translate(387.60 901.70) rotate(-98.0)" d="M-5.80 0 A5.80 5.80 0 0 1 5.80 0" fill="none" stroke="#1a1a1a" stroke-width="0.85"/>
</g>
</svg>
</body></html>
